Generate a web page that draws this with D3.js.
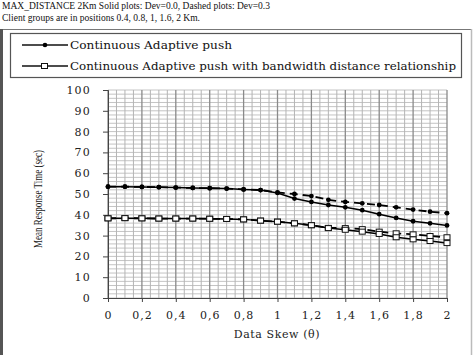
<!DOCTYPE html>
<html><head><meta charset="utf-8">
<script src="https://cdn.jsdelivr.net/npm/d3@7"></script>
<style>body{margin:0;background:#fff}svg{display:block}</style>
</head><body>
<script>
const skew = [0,0.1,0.2,0.3,0.4,0.5,0.6,0.7,0.8,0.9,1.0,1.1,1.2,1.3,1.4,1.5,1.6,1.7,1.8,1.9,2.0];
const adaptiveSolid  = [53.5,53.5,53.4,53.3,53.1,52.9,52.8,52.6,52.2,51.9,50.5,47.8,46.2,44.7,43.6,42.2,40.3,38.5,36.9,35.9,34.9];
const adaptiveDashed = [53.5,53.5,53.4,53.3,53.1,52.9,52.8,52.6,52.2,51.9,50.8,50.0,49.0,47.2,46.2,45.5,44.7,43.6,42.5,41.5,40.8];
const bwSolid  = [38.3,38.4,38.3,38.2,38.2,38.2,38.1,38.0,37.8,37.2,36.7,35.9,35.0,33.6,32.8,31.9,30.8,29.2,28.2,27.4,26.4];
const bwDashed = [38.3,38.4,38.3,38.2,38.2,38.2,38.1,38.0,37.8,37.2,36.7,35.9,35.0,33.7,33.6,33.1,31.9,31.1,30.6,29.8,29.2];
const xTicks = [0,0.2,0.4,0.6,0.8,1,1.2,1.4,1.6,1.8,2];
const yTicks = [0,10,20,30,40,50,60,70,80,90,100];
const legendLabels = ["Continuous Adaptive push","Continuous Adaptive push with bandwidth distance relationship"];
const titleLines = ["MAX_DISTANCE 2Km Solid plots: Dev=0.0, Dashed plots: Dev=0.3","Client groups are in positions 0.4, 0.8, 1, 1.6, 2 Km."];

const W=474,H=355;
const svg=d3.select("body").append("svg").attr("width",W).attr("height",H);
const x=d3.scaleLinear().domain([0,2]).range([108,447]);
const y=d3.scaleLinear().domain([0,100]).range([298,90]);

// title
svg.selectAll("text.title").data(titleLines).enter().append("text")
  .attr("x",2).attr("y",(d,i)=>9+i*11.5)
  .attr("font-family","Liberation Serif").attr("font-size",10.5).attr("fill","#111")
  .attr("textLength",(d,i)=>i===0?268:198).attr("lengthAdjust","spacingAndGlyphs")
  .text(d=>d);

// outer frame
svg.append("line").attr("x1",2).attr("x2",472).attr("y1",29.5).attr("y2",29.5).attr("stroke","#777").attr("stroke-width",1);
svg.append("rect").attr("x",0).attr("y",29).attr("width",3).attr("height",H-29).attr("fill","#555");
svg.append("line").attr("x1",471.5).attr("x2",471.5).attr("y1",29).attr("y2",H).attr("stroke","#bbb").attr("stroke-width",1.5);

// legend
svg.append("rect").attr("x",10.5).attr("y",33.5).attr("width",451).attr("height",44)
  .attr("fill","none").attr("stroke","#555").attr("stroke-width",1.2);
const lg=svg.selectAll("g.lg").data(legendLabels).enter().append("g").attr("transform",(d,i)=>`translate(0,${45+i*21})`);
lg.append("line").attr("x1",22).attr("x2",68).attr("stroke","#111").attr("stroke-width",1.3);
lg.append("text").attr("x",70).attr("y",4).attr("font-family","DejaVu Serif").attr("font-size",10.5).attr("fill","#111")
  .attr("textLength",(d,i)=>i===0?162:386).attr("lengthAdjust","spacingAndGlyphs").text(d=>d);
lg.filter((d,i)=>i===0).append("circle").attr("cx",45).attr("cy",0).attr("r",2.3).attr("fill","#000");
lg.filter((d,i)=>i===1).append("rect").attr("x",41.5).attr("y",-2.5).attr("width",6).attr("height",5).attr("fill","#fff").attr("stroke","#111");

// grid
const g=svg.append("g");
const vMinor=d3.range(0,2.0001,0.05);
g.selectAll("line.hg").data(d3.range(0,100.1,2)).enter().append("line")
  .attr("x1",x(0)).attr("x2",x(2)).attr("y1",d=>y(d)).attr("y2",d=>y(d))
  .attr("stroke","#c4c4c4").attr("stroke-width",1);
g.selectAll("line.vg").data(vMinor).enter().append("line")
  .attr("x1",d=>x(d)).attr("x2",d=>x(d)).attr("y1",y(0)).attr("y2",y(100))
  .attr("stroke",(d,i)=>i%4===0?"#8a8a8a":"#b4b4b4").attr("stroke-width",(d,i)=>i%4===0?1.3:1);

// axes
const yAxis=d3.axisLeft(y).tickValues(yTicks).tickSize(5).tickFormat(d3.format("d"));
const ya=svg.append("g").attr("transform",`translate(${x(0)},0)`).call(yAxis);
ya.select(".domain").attr("stroke","#444");
ya.selectAll(".tick line").attr("stroke","#444");
ya.selectAll(".tick text").attr("font-family","DejaVu Serif").attr("font-size",11).attr("fill","#222")
  .attr("x",-17).attr("letter-spacing","1.2px");
const xAxis=d3.axisBottom(x).tickValues(xTicks).tickSize(4).tickFormat(d=>String(d).replace(".",","));
const xa=svg.append("g").attr("transform",`translate(0,${y(0)})`).call(xAxis);
xa.select(".domain").attr("stroke","#444");
xa.selectAll(".tick line").attr("stroke","#444");
xa.selectAll(".tick text").attr("font-family","DejaVu Serif").attr("font-size",11).attr("fill","#222")
  .attr("y",13).attr("letter-spacing","1px");

svg.append("text").attr("x",277).attr("y",338).attr("text-anchor","middle")
  .attr("font-family","DejaVu Serif").attr("font-size",11).attr("fill","#222").attr("letter-spacing","0.6px").text("Data Skew (θ)");
svg.append("text").attr("transform","translate(42,199) rotate(-90)").attr("text-anchor","middle")
  .attr("font-family","Liberation Serif").attr("font-size",12).attr("fill","#222")
  .attr("textLength",98).attr("lengthAdjust","spacingAndGlyphs").text("Mean Response Time (sec)");

// series
const line=d3.line().x((d,i)=>x(skew[i])).y(d=>y(d));
const series=[
  {v:adaptiveDashed,dash:"8,5",m:"c"},
  {v:bwDashed,dash:"8,5",m:"s"},
  {v:adaptiveSolid,dash:null,m:"c"},
  {v:bwSolid,dash:null,m:"s"}
];
series.forEach(s=>{
  svg.append("path").datum(s.v).attr("d",line).attr("fill","none").attr("stroke","#000")
    .attr("stroke-width",s.dash?1.8:1.5).attr("stroke-dasharray",s.dash);
});
series.forEach(s=>{
  if(s.m==="c"){
    svg.selectAll(null).data(s.v).enter().append("circle")
      .attr("cx",(d,i)=>x(skew[i])).attr("cy",d=>y(d)).attr("r",2.4).attr("fill","#000");
  } else {
    svg.selectAll(null).data(s.v).enter().append("rect")
      .attr("x",(d,i)=>x(skew[i])-3).attr("y",d=>y(d)-2.5).attr("width",6).attr("height",5)
      .attr("fill","#fff").attr("stroke","#111").attr("stroke-width",1);
  }
});
</script>
</body></html>
